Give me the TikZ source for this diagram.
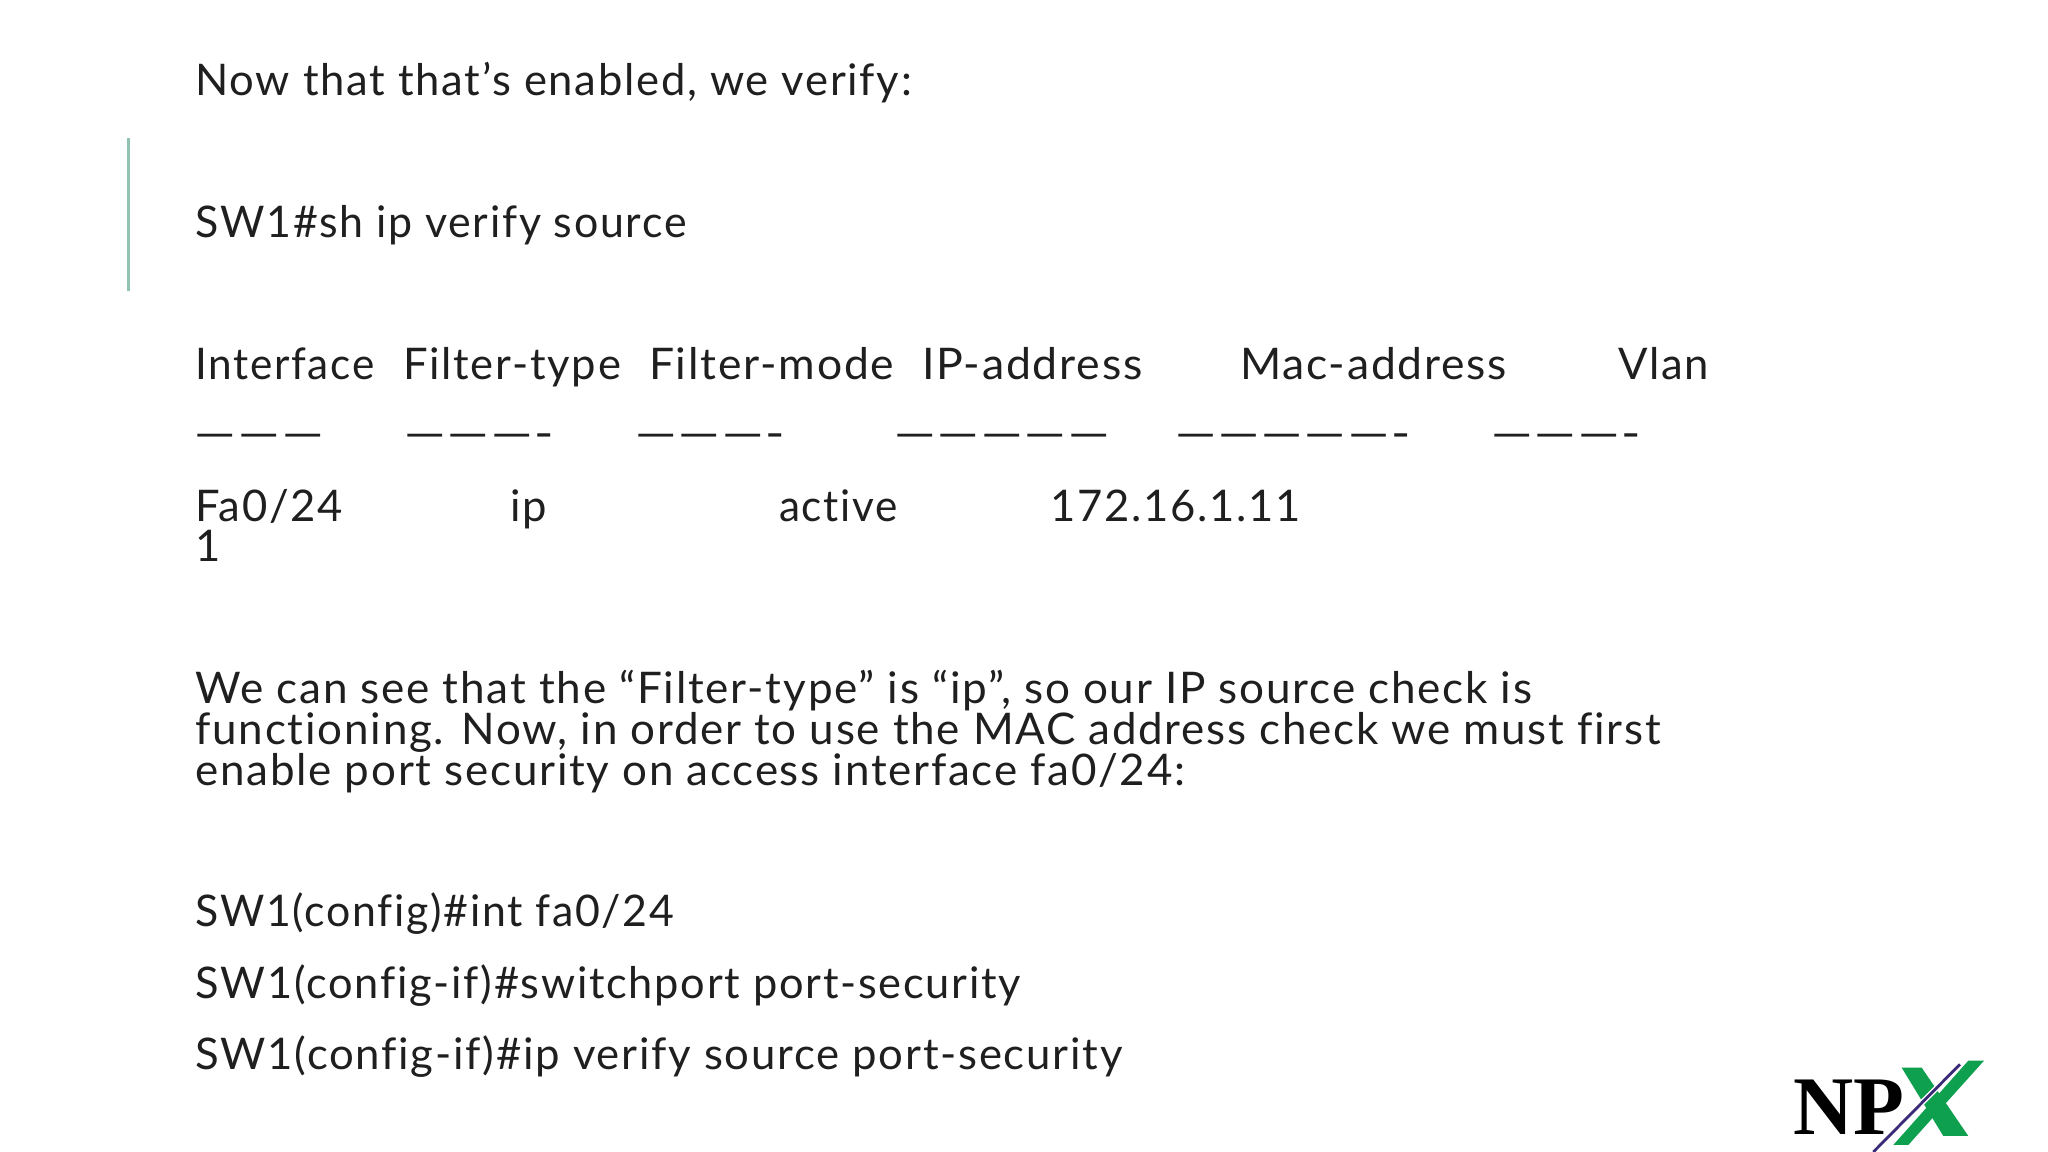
\documentclass[tikz,border=0pt]{standalone}
\usepackage{fontspec}
\setmainfont[LetterSpace=4,Ligatures=NoCommon]{Lato}
\newfontfamily\logofont{Liberation Serif}
\definecolor{barcolor}{HTML}{8FC4B5}
\definecolor{inktext}{HTML}{1F1F1F}
\definecolor{logogreen}{HTML}{0E9F4F}
\definecolor{logopurple}{HTML}{3A2A78}
\tikzset{
    slideline/.style={anchor=base west, inner sep=0pt, outer sep=0pt, text=inktext, font=\fontsize{12.4}{14}\selectfont},
    fitted/.style={transform shape, xscale=#1},
    logotext/.style={anchor=base west, inner sep=0pt, outer sep=0pt, font=\logofont\bfseries\fontsize{23.7}{26}\selectfont}
}
\begin{document}
\begin{tikzpicture}

    \useasboundingbox (0, 0) rectangle (20.48, 11.52);
    \fill[white] (0, 0) rectangle (20.48, 11.52);

    \fill[barcolor] (1.265, 8.61) rectangle (1.295, 10.14);

    \node[slideline] (now) at (1.955, 10.56) {Now that that’s enabled, we verify:};
    \node[slideline, fitted=0.984] (show) at (1.955, 9.14) {SW1\#sh ip verify source};

    \node[slideline, fitted=0.97] (hinterface) at (1.955, 7.725) {Interface};
    \node[slideline] (hfilter) at (4.03, 7.725) {Filter-type};
    \node[slideline, fitted=1.02] (hmode) at (6.49, 7.725) {Filter-mode};
    \node[slideline, fitted=1.024] (hip) at (9.22, 7.725) {IP-address};
    \node[slideline, fitted=1.02] (hmac) at (12.40, 7.725) {Mac-address};
    \node[slideline] (hvlan) at (16.18, 7.725) {Vlan};

    \node[slideline, fitted=1.2] (dinterface) at (1.95, 7.035) {———};
    \node[slideline, fitted=1.2] (dfilter) at (4.04, 7.035) {———-};
    \node[slideline, fitted=1.2] (dmode) at (6.35, 7.035) {———-};
    \node[slideline, fitted=1.2] (dip) at (8.94, 7.035) {—————};
    \node[slideline, fitted=1.19] (dmac) at (11.75, 7.035) {—————-};
    \node[slideline, fitted=1.2] (dvlan) at (14.91, 7.035) {———-};

    \node[slideline] (rport) at (1.955, 6.305) {Fa0/24};
    \node[slideline] (rtype) at (5.10, 6.305) {ip};
    \node[slideline, fitted=0.97] (rmode) at (7.79, 6.305) {active};
    \node[slideline] (raddr) at (10.50, 6.305) {172.16.1.11};
    \node[slideline] (rvlan) at (1.955, 5.905) {1};

    \node[slideline, fitted=1.011] (para1) at (1.955, 4.485) {We can see that the “Filter-type” is “ip”, so our IP source check is};
    \node[slideline, fitted=1.008] (para2) at (1.955, 4.075) {functioning. Now, in order to use the MAC address check we must first};
    \node[slideline, fitted=1.008] (para3) at (1.955, 3.665) {enable port security on access interface fa0/24:};

    \node[slideline, fitted=0.982] (conf1) at (1.955, 2.255) {SW1(config)\#int fa0/24};
    \node[slideline, fitted=0.995] (conf2) at (1.955, 1.535) {SW1(config-if)\#switchport port-security};
    \node[slideline, fitted=1.003] (conf3) at (1.955, 0.825) {SW1(config-if)\#ip verify source port-security};

    \fill[logogreen] (19.017, 0.843) -- (19.217, 0.843) -- (19.683, 0.16) -- (19.433, 0.16) -- cycle;
    \fill[logogreen] (19.683, 0.913) -- (19.84, 0.913) -- (19.083, 0.07) -- (18.933, 0.07) -- cycle;
    \draw[white, line width=1.6pt] (19.6, 0.877) -- (18.733, 0);
    \draw[logopurple, line width=0.8pt] (19.6, 0.877) -- (18.733, 0);
    \node[logotext] (logo) at (17.93, 0.17) {NP};

\end{tikzpicture}
\end{document}
